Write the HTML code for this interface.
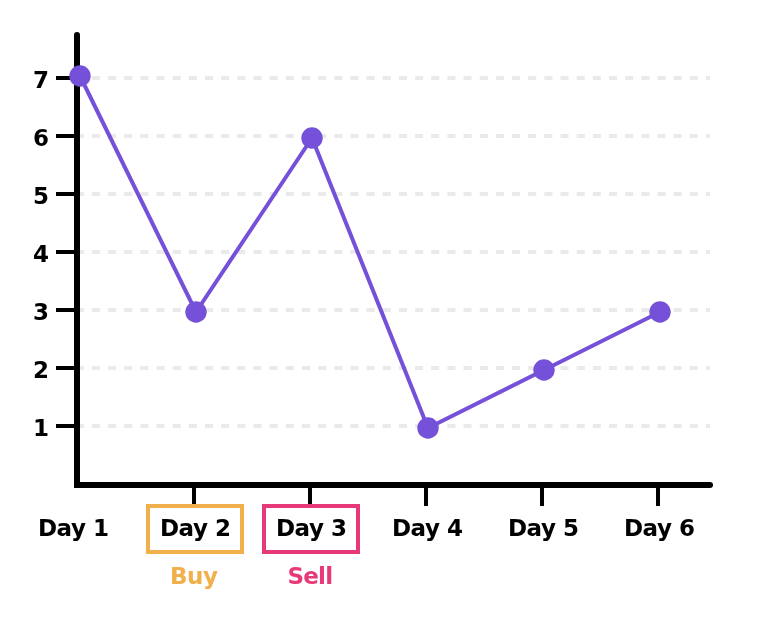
<!DOCTYPE html>
<html>
<head>
<meta charset="utf-8">
<style>
html,body{margin:0;padding:0;background:#fff;width:758px;height:624px;overflow:hidden}
svg{display:block;will-change:transform}
text{font-family:"DejaVu Sans","Liberation Sans",sans-serif;font-weight:bold;font-size:23px}
</style>
</head>
<body>
<svg width="758" height="624" viewBox="0 0 758 624">
  <!-- gridlines -->
  <g stroke="#eaeaea" stroke-width="4" stroke-dasharray="8.08 8.08" fill="none">
    <line x1="75.7" y1="78" x2="710" y2="78"/>
    <line x1="75.7" y1="136" x2="710" y2="136"/>
    <line x1="75.7" y1="194" x2="710" y2="194"/>
    <line x1="75.7" y1="252" x2="710" y2="252"/>
    <line x1="75.7" y1="310" x2="710" y2="310"/>
    <line x1="75.7" y1="368" x2="710" y2="368"/>
    <line x1="75.7" y1="426" x2="710" y2="426"/>
  </g>
  <!-- y ticks -->
  <g stroke="#000" stroke-width="4" fill="none">
    <line x1="56" y1="78" x2="77" y2="78"/>
    <line x1="56" y1="136" x2="77" y2="136"/>
    <line x1="56" y1="194" x2="77" y2="194"/>
    <line x1="56" y1="252" x2="77" y2="252"/>
    <line x1="56" y1="310" x2="77" y2="310"/>
    <line x1="56" y1="368" x2="77" y2="368"/>
    <line x1="56" y1="426" x2="77" y2="426"/>
    <line x1="194" y1="485" x2="194" y2="506"/>
    <line x1="310" y1="485" x2="310" y2="506"/>
    <line x1="426" y1="485" x2="426" y2="506"/>
    <line x1="542" y1="485" x2="542" y2="506"/>
    <line x1="658" y1="485" x2="658" y2="506"/>
  </g>
  <!-- axes -->
  <path d="M77 35 V485 H710" stroke="#000" stroke-width="6" fill="none" stroke-linecap="round" stroke-linejoin="miter"/>
  <!-- y labels -->
  <g fill="#000" text-anchor="end">
    <text x="49" y="88">7</text>
    <text x="49" y="146">6</text>
    <text x="49" y="204">5</text>
    <text x="49" y="262">4</text>
    <text x="49" y="320">3</text>
    <text x="49" y="378">2</text>
    <text x="49" y="436">1</text>
  </g>
  <!-- highlight boxes -->
  <rect x="148" y="506" width="94" height="46" fill="none" stroke="#f1b04b" stroke-width="4"/>
  <rect x="264" y="506" width="94" height="46" fill="none" stroke="#e7397a" stroke-width="4"/>
  <!-- x labels -->
  <g fill="#000" letter-spacing="-0.5">
    <text x="38" y="536">Day 1</text>
    <text x="160" y="536">Day 2</text>
    <text x="276" y="536">Day 3</text>
    <text x="392" y="536">Day 4</text>
    <text x="508" y="536">Day 5</text>
    <text x="624" y="536">Day 6</text>
  </g>
  <text x="170" y="584" fill="#f1b04b" letter-spacing="-0.5">Buy</text>
  <text x="287.5" y="584" fill="#e7397a" letter-spacing="-0.8">Sell</text>
  <!-- data line -->
  <polyline points="80,76 196,312 312,138 428,428 544,370 660,312" fill="none" stroke="#7550d8" stroke-width="4" stroke-linejoin="round"/>
  <g fill="#7550d8">
    <circle cx="80" cy="76" r="10.7"/>
    <circle cx="196" cy="312" r="10.7"/>
    <circle cx="312" cy="138" r="10.7"/>
    <circle cx="428" cy="428" r="10.7"/>
    <circle cx="544" cy="370" r="10.7"/>
    <circle cx="660" cy="312" r="10.7"/>
  </g>
</svg>
</body>
</html>
